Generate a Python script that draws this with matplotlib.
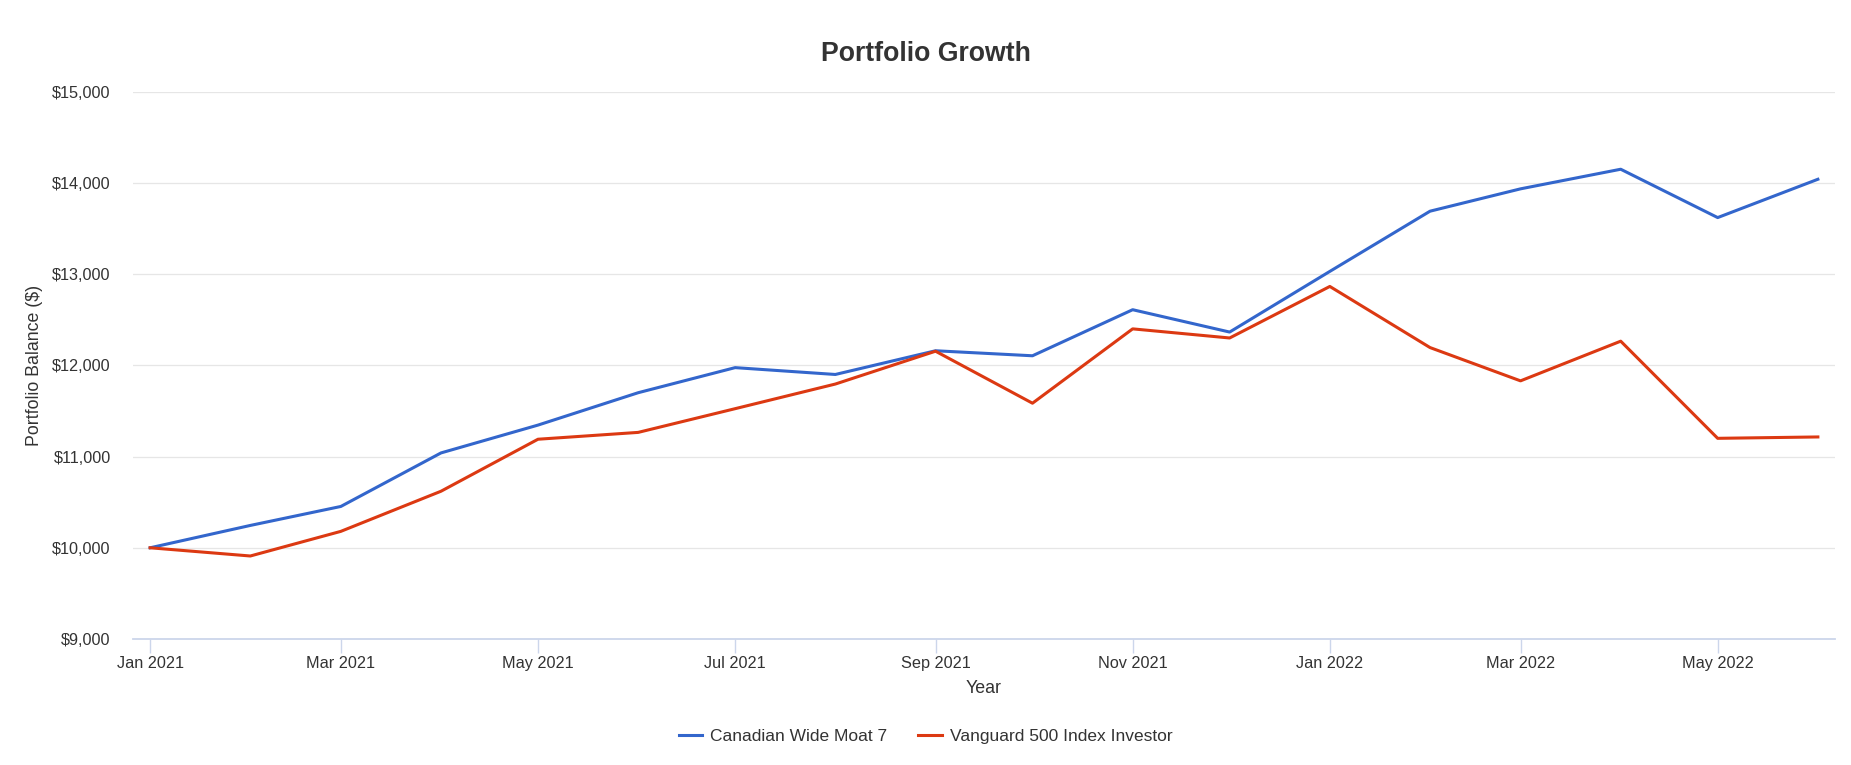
import numpy as np
import pandas as pd
import matplotlib
matplotlib.use("Agg")
import matplotlib.pyplot as plt
import matplotlib.dates as mdates
from matplotlib.ticker import FuncFormatter

plt.rcParams['font.family'] = ['Liberation Sans', 'DejaVu Sans']

months = ["2021-01", "2021-02", "2021-03", "2021-04", "2021-05", "2021-06",
          "2021-07", "2021-08", "2021-09", "2021-10", "2021-11", "2021-12",
          "2022-01", "2022-02", "2022-03", "2022-04", "2022-05", "2022-06"]

wide_moat = [10000, 10245, 10453, 11040, 11345, 11700, 11975, 11900, 12160,
             12105, 12610, 12365, 13030, 13690, 13935, 14150, 13620, 14040]
vanguard = [10000, 9910, 10180, 10620, 11190, 11265, 11525, 11795, 12155,
            11585, 12400, 12300, 12865, 12195, 11830, 12265, 11200, 11215]

series_names = ["Canadian Wide Moat 7", "Vanguard 500 Index Investor"]
colors = ["#3366cc", "#dc3912"]
text_col = "#333333"

dates = pd.to_datetime(months)

fig = plt.figure(figsize=(18.51, 7.65), dpi=100)
ax = fig.add_axes([133 / 1851, 1 - 639 / 765, (1835 - 133) / 1851, (639 - 91.7) / 765])

for vals, name, c in zip([wide_moat, vanguard], series_names, colors):
    ax.plot(dates, vals, color=c, lw=2.2, label=name, solid_joinstyle="round")

ax.set_ylim(9000, 15000)
ax.set_yticks(np.arange(9000, 15001, 1000))
ax.yaxis.set_major_formatter(FuncFormatter(lambda v, p: f"${v:,.0f}"))
ax.set_xlim(dates[0] - pd.Timedelta(days=5.3), dates[-1] + pd.Timedelta(days=5.3))
ax.xaxis.set_major_locator(mdates.MonthLocator(bymonth=[1, 3, 5, 7, 9, 11]))
ax.xaxis.set_major_formatter(mdates.DateFormatter("%b %Y"))

ax.grid(axis="y", color="#e6e6e6", lw=0.9)
ax.set_axisbelow(True)
for s in ["top", "right", "left"]:
    ax.spines[s].set_visible(False)
ax.spines["bottom"].set_color("#ccd6eb")
ax.spines["bottom"].set_linewidth(1.3)

ax.tick_params(axis="y", length=0, pad=16, labelsize=11.7, labelcolor=text_col)
ax.tick_params(axis="x", length=10, width=1, color="#ccd6eb", pad=2,
               labelsize=11.7, labelcolor=text_col)

fig.text(0.5, 1 - 61 / 765, "Portfolio Growth", ha="center", va="baseline",
         fontsize=19.2, fontweight="bold", color=text_col)
fig.text(34.5 / 1851, 1 - 365 / 765, "Portfolio Balance ($)", rotation=90,
         ha="center", va="center", fontsize=12.8, color=text_col)
fig.text((133 + 1835) / 2 / 1851, 1 - 688.5 / 765, "Year", ha="center", va="center",
         fontsize=12.8, color=text_col)

fig.legend(loc="center", bbox_to_anchor=(0.5, 1 - 736.5 / 765), ncol=2, frameon=False,
           fontsize=12.5, labelcolor=text_col, handlelength=1.35, handletextpad=0.47,
           columnspacing=1.77)

fig.savefig("out.png", dpi=100)
